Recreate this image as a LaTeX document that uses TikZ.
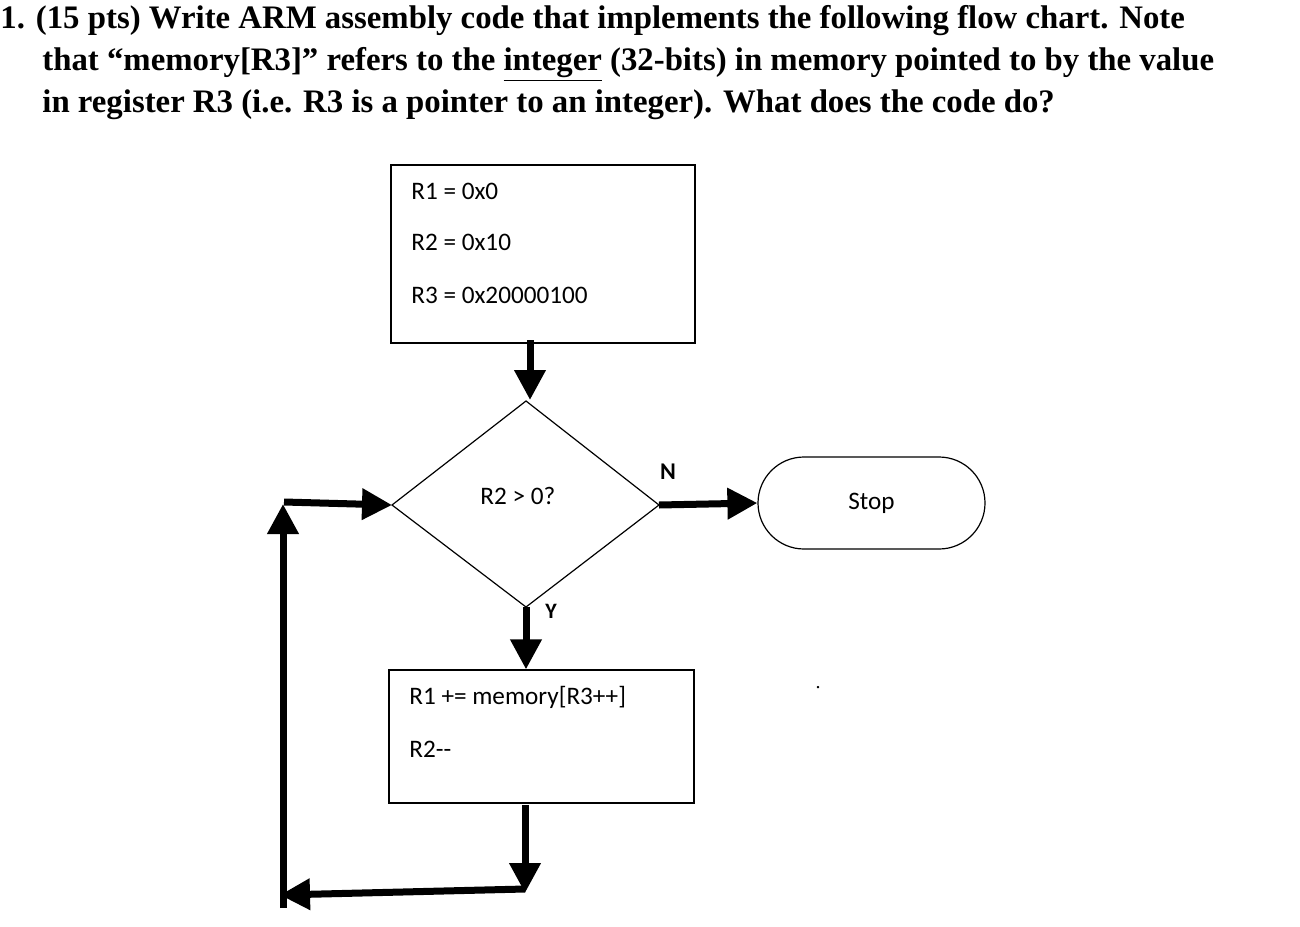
\documentclass[tikz,border=0pt]{standalone}
\usepackage{fontspec}
\setmainfont{Liberation Serif}
\newfontfamily\boxfont{Carlito}
\usetikzlibrary{arrows.meta,positioning,shapes.geometric}
\newcommand{\uline}[1]{\underline{#1}}
\tikzset{
  >=Stealth,
  every node/.append style={inner sep=0pt},
  box/.style={draw, line width=0.6pt},
  txt/.style={font=\boxfont\fontsize{12.6}{15}\selectfont, anchor=base west},
  ttl/.style={font=\bfseries\fontsize{16.4}{19}\selectfont, anchor=base west},
  arrow/.style={-{Triangle[width=15pt,length=15pt]}, line width=3.5pt}
}
\begin{document}
\begin{tikzpicture}[x=0.5pt, y=-0.5pt]
\useasboundingbox (0,0) rectangle (1300,926);

% --- Title ---
\node[ttl] (t1) at (0,28) {1. (15 pts) Write ARM assembly code that implements the following flow chart. Note};
\node[ttl] (t2) at (42,70) {that ``memory[R3]'' refers to the \uline{integer} (32-bits) in memory pointed to by the value};
\node[ttl] (t3) at (42,112) {in register R3 (i.e. R3 is a pointer to an integer). What does the code do?};

% --- Shapes ---
\node[box, minimum width=152pt, minimum height=89pt] (init) at (543,254) {};
\node[txt] at (411,199) {R1 = 0x0};
\node[txt] at (411,250) {R2 = 0x10};
\node[txt] at (411,303) {R3 = 0x20000100};

\draw[line width=0.6pt] (526,401) coordinate (dtop) -- (659,505) coordinate (dright)
  -- (526,607) coordinate (dbot) -- (392,505) coordinate (dleft) -- cycle;
\node[txt] (cond) at (480,504) {R2 > 0?};
\node[font=\boxfont\bfseries\fontsize{12}{14}\selectfont] (no) at (668,472) {N};
\node[font=\boxfont\bfseries\fontsize{11}{13}\selectfont] (yes) at (551,611) {Y};

\node[box, rounded corners=23pt, minimum width=113.5pt, minimum height=46pt] (stop) at (871.5,503)
  {\boxfont\fontsize{12.6}{15}\selectfont Stop};

\node[box, minimum width=152.5pt, minimum height=66.5pt] (body) at (541.5,736.5) {};
\node[txt] at (409,704) {R1 += memory[R3++]};
\node[txt] at (409,757) {R2-{}-};

\node (dot) at (818,688) {.};

% --- Arrows ---
\coordinate (a1) at (530,340);
\coordinate (a2) at (530,400);
\draw[arrow] (a1) -- (a2);
\draw[arrow] (dright) -- (stop.west);
\draw[arrow] (dbot) -- (body.north -| dbot);
\coordinate (b1) at (525,805);
\coordinate (b2) at (525,893);
\draw[arrow] (b1) -- (b2);
\coordinate (c1) at (525,889);
\coordinate (c2) at (280,895);
\draw[arrow] (c1) -- (c2);
\coordinate (d1) at (283,908);
\coordinate (d2) at (283,504);
\draw[arrow] (d1) -- (d2);
\coordinate (e1) at (284,502);
\draw[arrow] (e1) -- (dleft);
\end{tikzpicture}
\end{document}
